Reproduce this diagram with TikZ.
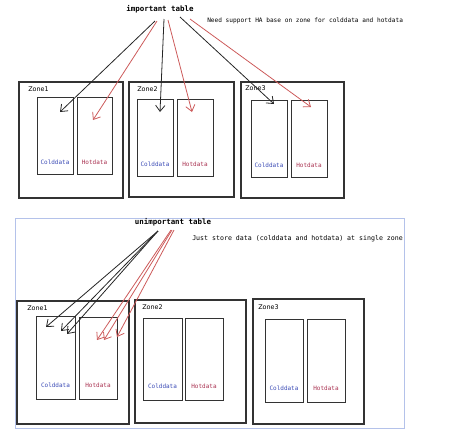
\documentclass[tikz,border=0pt]{standalone}
\usepackage{fontspec}
\setmonofont{DejaVu Sans Mono}
\setsansfont{DejaVu Sans}
\usetikzlibrary{arrows.meta,positioning,fit}
\definecolor{coldblue}{HTML}{3A4AB5}
\definecolor{hotred}{HTML}{A8304F}
\definecolor{arrred}{HTML}{CC5A5A}
\definecolor{framebl}{HTML}{B4C2EA}
\tikzset{
  zone/.style={draw=black!80,line width=0.8pt,inner sep=0pt},
  store/.style={draw=black!80,line width=0.7pt,inner sep=0pt},
  zonetxt/.style={anchor=west,font=\sffamily\fontsize{4.8}{5}\selectfont,inner sep=0pt},
  coldtxt/.style={font=\ttfamily\fontsize{4.5}{5}\selectfont,text=coldblue,inner sep=0pt},
  hottxt/.style={font=\ttfamily\fontsize{4.5}{5}\selectfont,text=hotred,inner sep=0pt},
  tabletxt/.style={font=\ttfamily\bfseries\fontsize{5.6}{6}\selectfont,inner sep=0pt},
  notetxt/.style={anchor=west,font=\ttfamily\fontsize{4.6}{5}\selectfont,inner sep=0pt},
  blackarr/.style={-{Straight Barb[length=4.5pt,width=7pt]},black!85,line width=0.6pt},
  redarr/.style={-{Straight Barb[length=4.5pt,width=7pt]},arrred,line width=0.6pt},
}
\begin{document}
\begin{tikzpicture}[x=0.75pt,y=-0.75pt]
\useasboundingbox (0,0) rectangle (474,436);

%important table
\node[tabletxt] (imp) at (160,9) {important table};
\node[notetxt] (impnote) at (207,21) {Need support HA base on zone for colddata and hotdata};

%zones haut
\node[zone,fit={(19,82) (123,198)}] (z1) {};
\node[zone,fit={(129,82) (234,197)}] (z2) {};
\node[zone,fit={(241,82) (344,198)}] (z3) {};
\node[zonetxt] at (28,89) {Zone1};
\node[zonetxt] at (137,89) {Zone2};
\node[zonetxt] at (245,88) {Zone3};
%stockage haut
\node[store,fit={(37,97) (73,174)}] (c1) {};
\node[store,fit={(77,97) (112,174)}] (h1) {};
\node[store,fit={(137,99) (173,176)}] (c2) {};
\node[store,fit={(177,99) (213,176)}] (h2) {};
\node[store,fit={(251,100) (287,177)}] (c3) {};
\node[store,fit={(291,100) (327,177)}] (h3) {};
\foreach \n in {1,2,3}{
  \node[coldtxt,above=7.5pt] at (c\n.south) {Colddata};
  \node[hottxt,above=7.5pt] at (h\n.south) {Hotdata};
}
%fleches haut
\coordinate (k1) at (155,21); \coordinate (k2) at (164,19); \coordinate (k3) at (180,17);
\coordinate (r1) at (157,21); \coordinate (r2) at (168,20); \coordinate (r3) at (190,19);
\coordinate (ek1) at (60,112); \coordinate (ek2) at (160,112); \coordinate (ek3) at (274,104);
\coordinate (er1) at (93,120); \coordinate (er2) at (192,112); \coordinate (er3) at (311,107);
\foreach \n in {1,2,3}{
  \draw[blackarr] (k\n) -- (ek\n);
  \draw[redarr] (r\n) -- (er\n);
}

%unimportant table
\node[draw=framebl,line width=0.6pt,inner sep=0pt,fit={(15,218) (404,428)}] (frame) {};
\node[tabletxt] (unimp) at (173,222) {unimportant table};
\node[notetxt,font=\ttfamily\fontsize{4.95}{5}\selectfont] (unimpnote) at (192,239) {Just store data (colddata and hotdata) at single zone};

%zones bas
\node[zone,fit={(17,301) (129,424)}] (bz1) {};
\node[zone,fit={(135,300) (246,423)}] (bz2) {};
\node[zone,fit={(253,299) (364,424)}] (bz3) {};
\node[zonetxt] at (27,308) {Zone1};
\node[zonetxt] at (142,307) {Zone2};
\node[zonetxt] at (258,307) {Zone3};
%stockage bas
\node[store,fit={(36,316) (75,399)}] (bc1) {};
\node[store,fit={(79,317) (117,399)}] (bh1) {};
\node[store,fit={(143,318) (182,400)}] (bc2) {};
\node[store,fit={(185,318) (223,400)}] (bh2) {};
\node[store,fit={(265,319) (303,402)}] (bc3) {};
\node[store,fit={(307,319) (345,402)}] (bh3) {};
\foreach \n in {1,2,3}{
  \node[coldtxt,above=8.5pt] at (bc\n.south) {Colddata};
  \node[hottxt,above=8.5pt] at (bh\n.south) {Hotdata};
}
%fleches bas
\coordinate (bk) at (158,231);
\coordinate (br1) at (171,230); \coordinate (br2) at (172,230); \coordinate (br3) at (174,230);
\coordinate (ebk1) at (46,327); \coordinate (ebk2) at (61,331); \coordinate (ebk3) at (67,334);
\coordinate (ebr1) at (97,340); \coordinate (ebr2) at (104,340); \coordinate (ebr3) at (117,337);
\foreach \n in {1,2,3}{
  \draw[blackarr] (bk) -- (ebk\n);
  \draw[redarr] (br\n) -- (ebr\n);
}
\end{tikzpicture}
\end{document}
